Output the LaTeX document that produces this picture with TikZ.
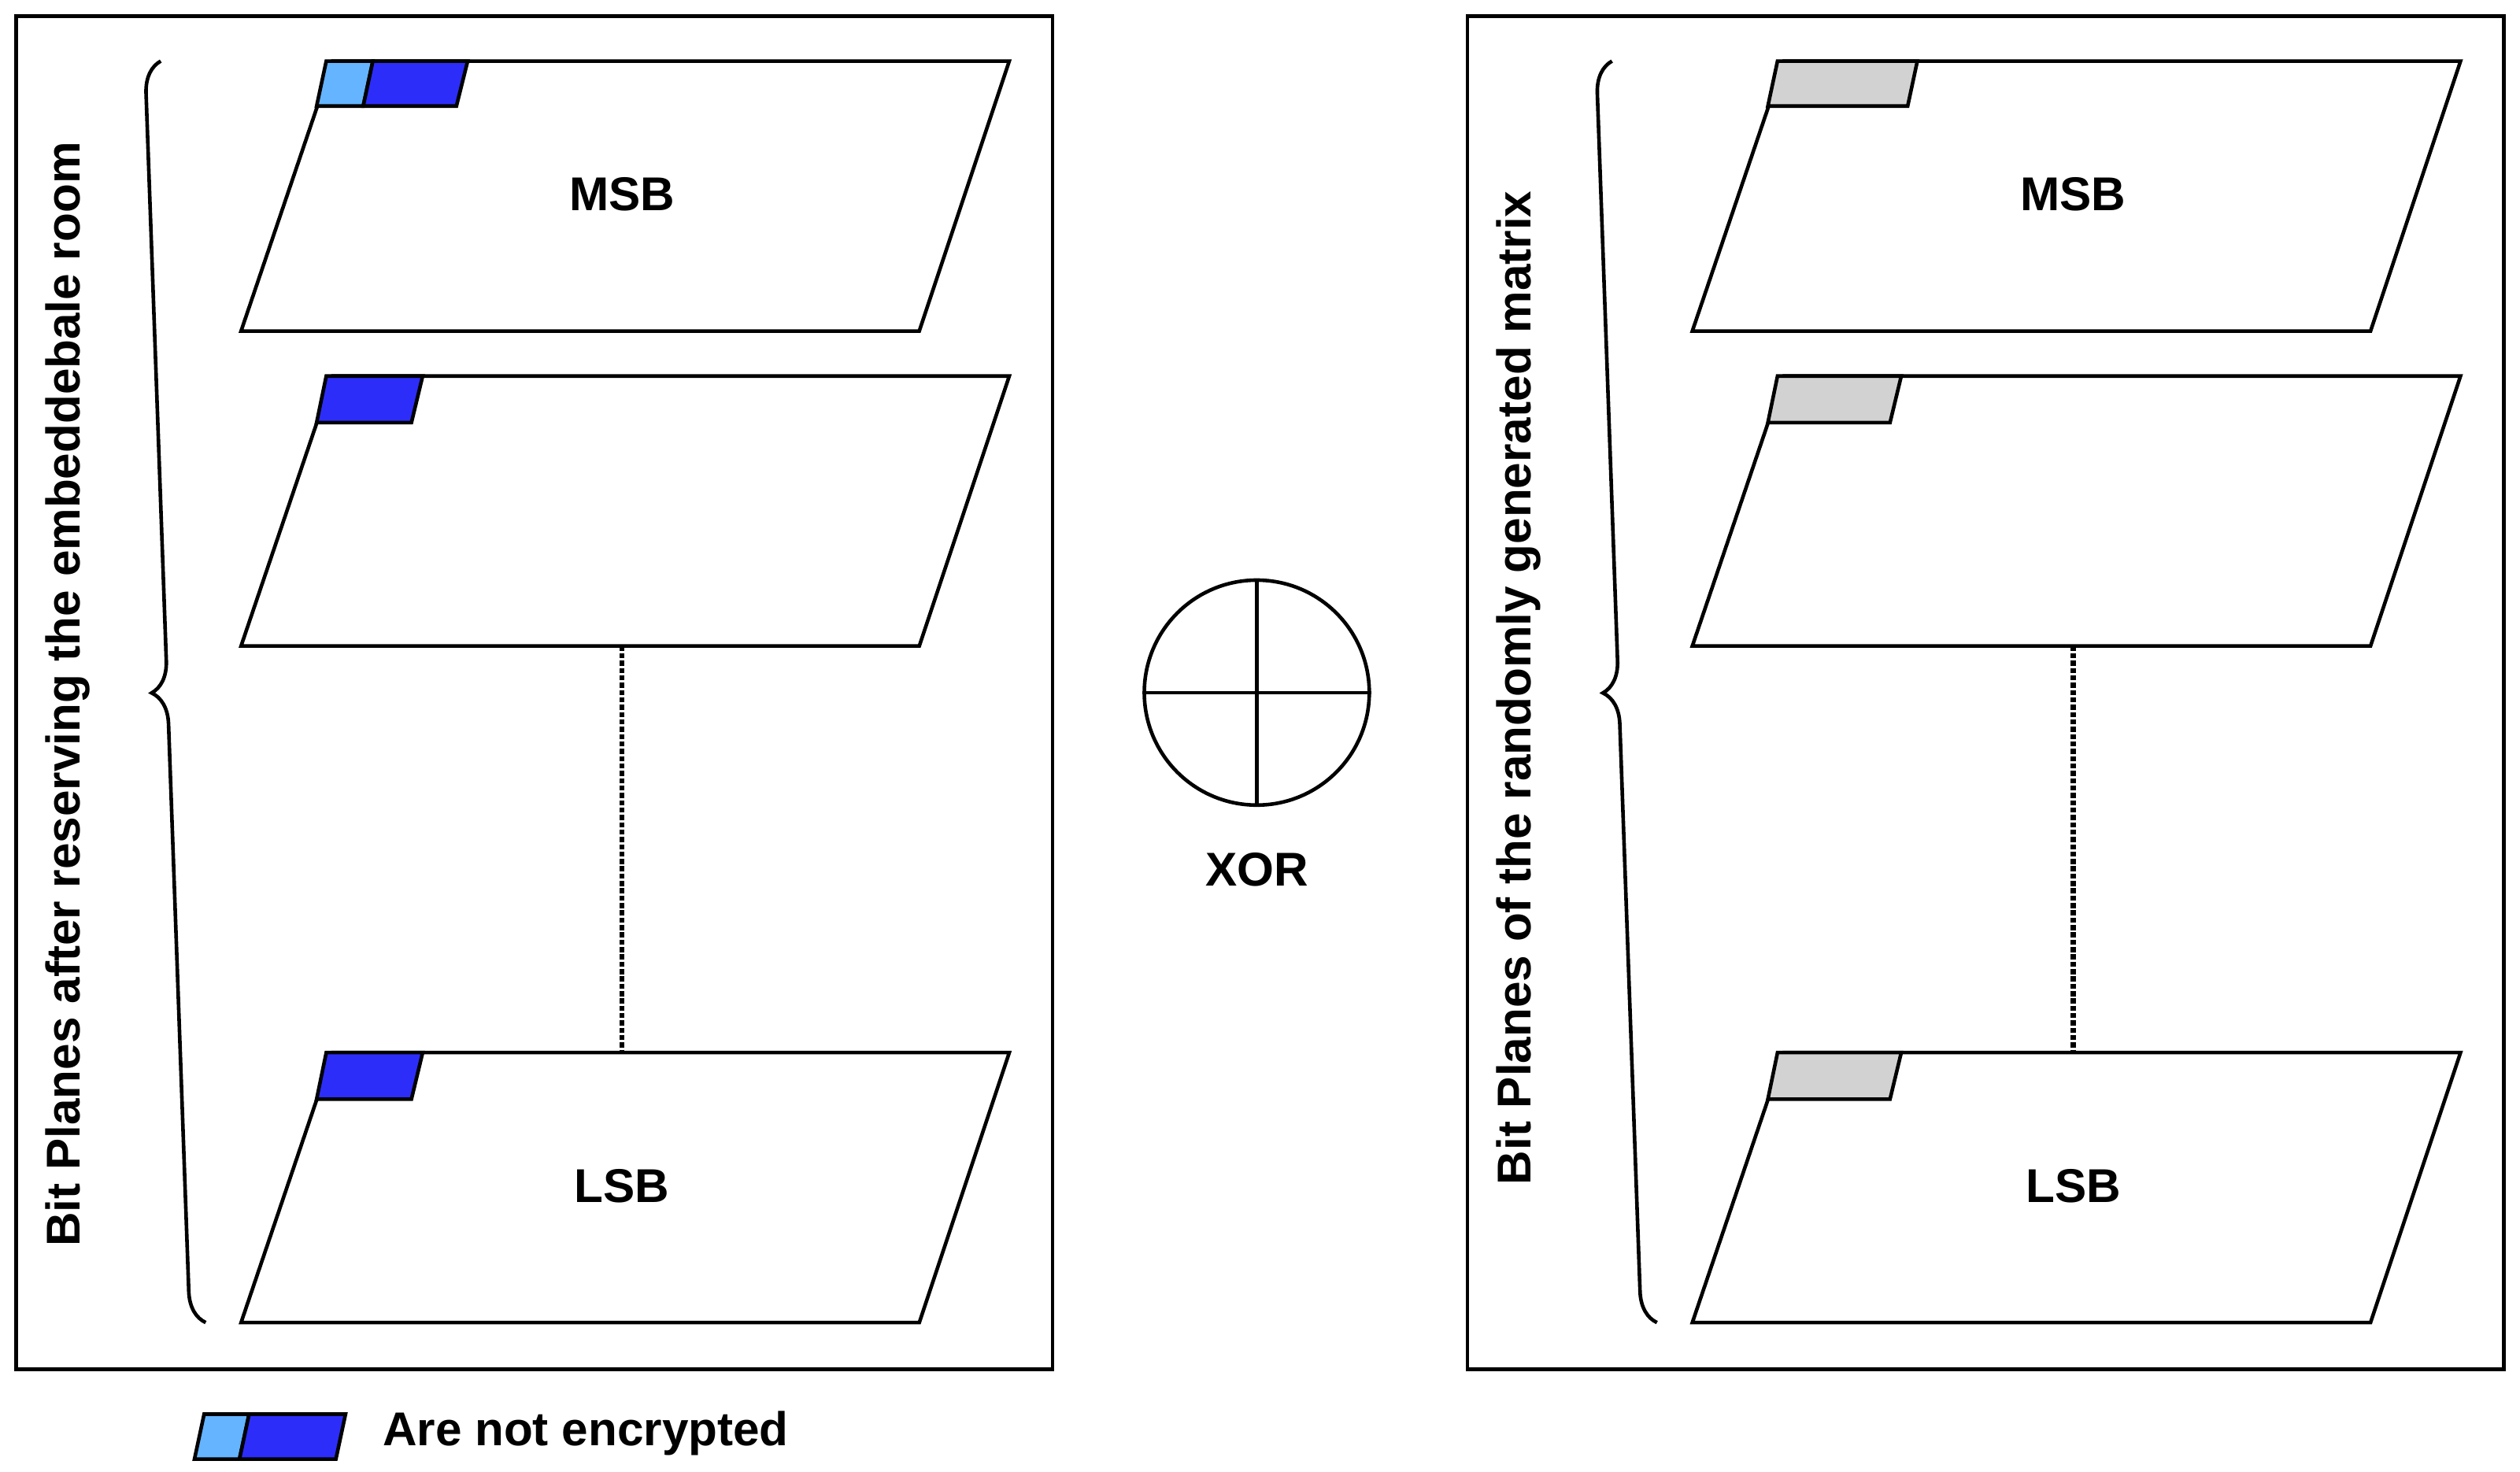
\documentclass[tikz,border=0pt]{standalone}
\usepackage{fontspec}
\setmainfont{Liberation Sans}
\usetikzlibrary{decorations.pathreplacing}
\definecolor{lb}{RGB}{100,180,255}
\definecolor{db}{RGB}{45,45,250}
\definecolor{gr}{RGB}{210,210,210}
\begin{document}
\begin{tikzpicture}[x=0.05cm,y=-0.05cm,line width=3.2pt,
  lbl/.style={font=\fontsize{42}{48}\selectfont\bfseries},
  plane/.style={draw,fill=white,line width=3.2pt},
  tab/.style={draw,line width=3.2pt}]
\useasboundingbox (0,0) rectangle (1568,916);
\foreach \dx/\nm in {0/L,903/R}{
  \begin{scope}[xshift=\dx*0.05cm]
  \draw (10,10) rectangle (655,852);
  \foreach \t/\n in {38/a,234/b,655/c}{
    \draw[plane] (207,\t) -- (628,\t) -- (572,\t+168) -- (150,\t+168) -- cycle;
  }
  \node[coordinate] (\nm b) at (387,402) {};
  \node[coordinate] (\nm c) at (387,655) {};
  \draw[dotted,line width=4.5pt] (\nm b) -- (\nm c);
  \draw[decorate,decoration={brace,amplitude=28pt,aspect=0.5}] (128,823) -- (100,38) ;
  \end{scope}
}
% left tabs
\draw[tab,fill=lb] (203,38) -- (232,38) -- (226,66) -- (197,66) -- cycle;
\draw[tab,fill=db] (232,38) -- (291,38) -- (284,66) -- (226,66) -- cycle;
\draw[tab,fill=db] (203,234) -- (263,234) -- (256,263) -- (197,263) -- cycle;
\draw[tab,fill=db] (203,655) -- (263,655) -- (256,684) -- (197,684) -- cycle;
% right tabs
\draw[tab,fill=gr] (1106,38) -- (1193,38) -- (1187,66) -- (1100,66) -- cycle;
\draw[tab,fill=gr] (1106,234) -- (1183,234) -- (1176,263) -- (1100,263) -- cycle;
\draw[tab,fill=gr] (1106,655) -- (1183,655) -- (1176,684) -- (1100,684) -- cycle;
\node[lbl] (m1) at (387,121) {MSB};
\node[lbl] (l1) at (387,738) {LSB};
\node[lbl] (m2) at (1290,121) {MSB};
\node[lbl] (l2) at (1290,738) {LSB};
\node[lbl,rotate=90] (t1) at (42,432) {Bit Planes after reserving the embeddebale room};
\node[lbl,rotate=90] (t2) at (945,428) {Bit Planes of the randomly generated matrix};
\node[draw,circle,minimum size=7cm,inner sep=0pt,line width=3.2pt] (x) at (782,431) {};
\draw (x.north) -- (x.south) (x.west) -- (x.east);
\node[lbl] (xt) at (782,541) {XOR};
\draw[tab,fill=lb] (127,880) -- (155,880) -- (149,908) -- (121,908) -- cycle;
\draw[tab,fill=db] (155,880) -- (215,880) -- (209,908) -- (149,908) -- cycle;
\node[lbl,anchor=west,inner sep=0pt] (lg) at (237,892) {Are not encrypted};
\end{tikzpicture}
\end{document}
